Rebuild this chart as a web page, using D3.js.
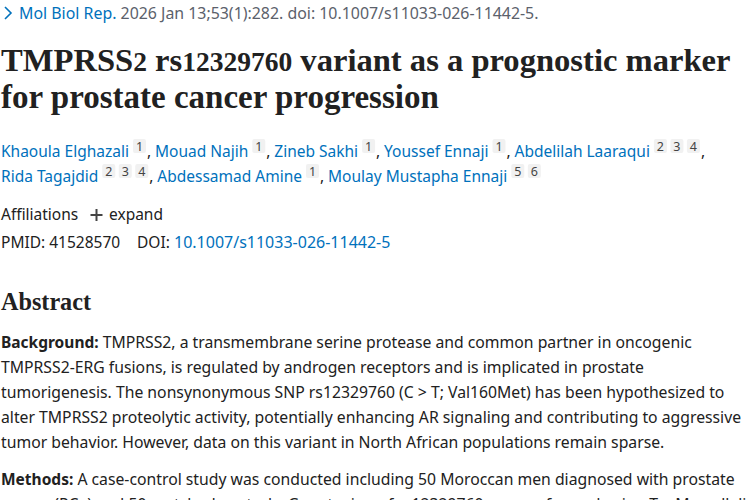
<!DOCTYPE html>
<html>
<head>
<meta charset="utf-8">
<script src="https://cdnjs.cloudflare.com/ajax/libs/d3/7.8.5/d3.min.js"></script>
<style>
html, body { margin: 0; padding: 0; background: #fff; overflow: hidden; }
svg { display: block; }
text { font-family: "Noto Sans", "Open Sans", sans-serif; font-size: 15.5px; fill: #212121; white-space: pre; }
.serif { font-family: "Liberation Serif", serif; }
.link { fill: #0071bc; }
.cite { fill: #5b616b; }
.sup { font-size: 12.5px; fill: #444; text-anchor: middle; }
.body { font-size: 15.75px; }
</style>
</head>
<body>
<svg width="750" height="500"></svg>
<script>
// Page text, line by line
let citation = ["Mol Biol Rep.", " 2026 Jan 13;53(1):282. doi: 10.1007/s11033-026-11442-5."];
let titleLines = ["TMPRSS2 rs12329760 variant as a prognostic marker", "for prostate cancer progression"];
let authorLines = [
    [["Khaoula Elghazali", ["1"]], ["Mouad Najih", ["1"]], ["Zineb Sakhi", ["1"]], ["Youssef Ennaji", ["1"]], ["Abdelilah Laaraqui", ["2", "3", "4"]]],
    [["Rida Tagajdid", ["2", "3", "4"]], ["Abdessamad Amine", ["1"]], ["Moulay Mustapha Ennaji", ["5", "6"]]]
];
let pmid = "PMID: 41528570";
let doiLabel = "DOI:";
let doi = "10.1007/s11033-026-11442-5";
let abstractHead = "Abstract";
let abstractLines = [
    ["Background:", " TMPRSS2, a transmembrane serine protease and common partner in oncogenic"],
    ["", "TMPRSS2-ERG fusions, is regulated by androgen receptors and is implicated in prostate"],
    ["", "tumorigenesis. The nonsynonymous SNP rs12329760 (C > T; Val160Met) has been hypothesized to"],
    ["", "alter TMPRSS2 proteolytic activity, potentially enhancing AR signaling and contributing to aggressive"],
    ["", "tumor behavior. However, data on this variant in North African populations remain sparse."]
];
let methodsLine = ["Methods:", " A case-control study was conducted including 50 Moroccan men diagnosed with prostate"];
let lastLine = "cancer (PCa) and 50 matched controls. Genotyping of rs12329760 was performed using TaqMan allelic";

let svg = d3.select("svg");

// Citation line
svg.append("path")
    .attr("d", "M4 4L10 10L4 16")
    .attr("transform", "translate(1,3)")
    .attr("fill", "none")
    .attr("stroke", "#0071bc")
    .attr("stroke-width", 1.6);
let cite = svg.append("text").attr("x", 19).attr("y", 19).style("font-size", "15.9px");
cite.append("tspan").attr("class", "link").text(citation[0]);
cite.append("tspan").attr("class", "cite").text(citation[1]);

// Title, digits set smaller to stand in for the old-style numerals
let title = svg.selectAll("text.title")
    .data(titleLines)
    .enter().append("text")
    .attr("class", "title serif")
    .attr("x", 1)
    .attr("y", function(d, i) { return 71 + i * 37; })
    .style("font-size", function(d, i) { return i == 0 ? "32.6px" : "33px"; })
    .style("font-weight", "bold");

title.selectAll("tspan")
    .data(function(d) { return d.split(/(\d+)/); })
    .enter().append("tspan")
    .style("font-size", function(d) { return /^\d+$/.test(d) ? "27.5px" : null; })
    .text(function(d) { return d; });

// Authors, laid out with measured widths
authorLines.forEach(function(line, row) {
    let x = 1;
    let y = 157 + row * 25;
    line.forEach(function(a, i) {
        let t = svg.append("text").attr("class", "link").attr("x", x).attr("y", y).text(a[0]);
        x += t.node().getComputedTextLength() + 4;
        a[1].forEach(function(s, j) {
            svg.append("rect").attr("x", x).attr("y", y - 18).attr("width", 13).attr("height", 14).attr("rx", 2).attr("fill", "#f1f1f1");
            svg.append("text").attr("class", "sup").attr("x", x + 6.5).attr("y", y - 6.5).text(s);
            x += j == a[1].length - 1 ? 13 : 16.5;
        });
        if(i < line.length - 1 || row == 0) {
            svg.append("text").attr("x", x + 1).attr("y", y).text(",");
        }
        x += 9;
    });
});

// Affiliations and ids
svg.append("text").attr("x", 1).attr("y", 220).text("Affiliations");
svg.append("path").attr("d", "M90.5 215H102.5M96.5 209V221").attr("stroke", "#444").attr("stroke-width", 2);
svg.append("text").attr("x", 109).attr("y", 220).text("expand");
svg.append("text").attr("x", 1).attr("y", 248).text(pmid);
svg.append("text").attr("x", 137).attr("y", 248).text(doiLabel);
svg.append("text").attr("class", "link").attr("x", 174).attr("y", 248).style("font-size", "16px").text(doi);

// Abstract
svg.append("text").attr("class", "serif").attr("x", 1).attr("y", 310).style("font-size", "24.2px").style("font-weight", "bold").text(abstractHead);

function bodyLine(parts, y) {
    let t = svg.append("text").attr("class", "body").attr("x", 1).attr("y", y);
    t.append("tspan").style("font-size", "15.5px").style("font-weight", "bold").text(parts[0]);
    t.append("tspan").text(parts[1]);
}
abstractLines.forEach(function(l, i) { bodyLine(l, 348 + i * 25); });
bodyLine(methodsLine, 485);
svg.append("text").attr("class", "body").attr("x", 1).attr("y", 510).text(lastLine);
</script>
</body>
</html>
